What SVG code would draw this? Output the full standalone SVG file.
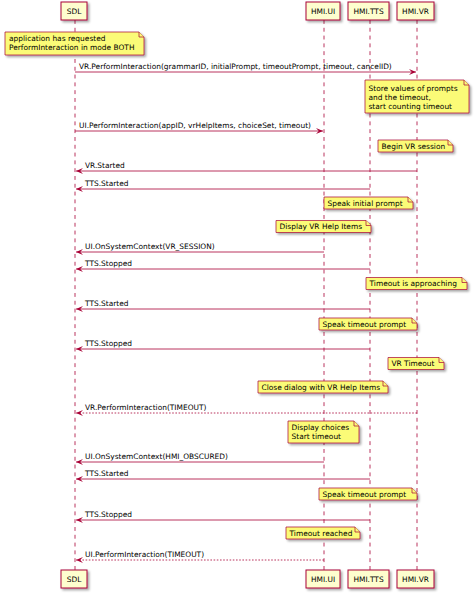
<svg xmlns="http://www.w3.org/2000/svg" width="474" height="594" viewBox="0 0 474 594">
<defs>
<filter id="sh" x="-10%" y="-20%" width="130%" height="160%">
<feDropShadow dx="1.8" dy="1.8" stdDeviation="1" flood-color="#000" flood-opacity="0.35"/>
</filter>
<marker id="ah" markerUnits="userSpaceOnUse" markerWidth="7" markerHeight="6" viewBox="0 0 7 6" refX="7" refY="3" orient="auto">
<path d="M0,0 L7,3 L0,6 L2.8,3 Z" fill="#A80036"/>
</marker>
</defs>
<style>
text{font-family:"DejaVu Sans",Verdana,sans-serif;font-size:7.45px;fill:#000}
.part rect{fill:#FEFECE;stroke:#A80036;stroke-width:1}
.life{stroke:#A80036;stroke-width:0.8;stroke-dasharray:3.9,3.9;fill:none}
.note path{fill:#FBFB77;stroke:#A80036;stroke-width:0.7}
.msg line{stroke:#A80036;stroke-width:0.8;marker-end:url(#ah)}
.msg line.dot{stroke-dasharray:1.6,1.6}
</style>

<g id="lifelines">
<line class="life" x1="75" y1="20" x2="75" y2="570"/>
<line class="life" x1="324" y1="20" x2="324" y2="570"/>
<line class="life" x1="370" y1="20" x2="370" y2="570"/>
<line class="life" x1="417" y1="20" x2="417" y2="570"/>
</g>

<g id="p-sdl" class="part">
<rect x="61" y="2" width="26" height="18" filter="url(#sh)"/>
<text x="74" y="14" text-anchor="middle">SDL</text>
<rect x="61" y="570" width="26" height="18" filter="url(#sh)"/>
<text x="74" y="582" text-anchor="middle">SDL</text>
</g>
<g id="p-ui" class="part">
<rect x="306" y="2" width="34" height="18" filter="url(#sh)"/>
<text x="323" y="14" text-anchor="middle">HMI.UI</text>
<rect x="306" y="570" width="34" height="18" filter="url(#sh)"/>
<text x="323" y="582" text-anchor="middle">HMI.UI</text>
</g>
<g id="p-tts" class="part">
<rect x="348" y="2" width="41" height="18" filter="url(#sh)"/>
<text x="368.5" y="14" text-anchor="middle">HMI.TTS</text>
<rect x="348" y="570" width="41" height="18" filter="url(#sh)"/>
<text x="368.5" y="582" text-anchor="middle">HMI.TTS</text>
</g>
<g id="p-vr" class="part">
<rect x="397" y="2" width="37" height="18" filter="url(#sh)"/>
<text x="415.5" y="14" text-anchor="middle">HMI.VR</text>
<rect x="397" y="570" width="37" height="18" filter="url(#sh)"/>
<text x="415.5" y="582" text-anchor="middle">HMI.VR</text>
</g>

<g id="connectors" class="msg">
<line x1="75" y1="72" x2="416" y2="72"/>
<text x="79" y="68.5">VR.PerformInteraction(grammarID, initialPrompt, timeoutPrompt, timeout, cancelID)</text>
<line x1="75" y1="131" x2="323" y2="131"/>
<text x="79" y="127.5">UI.PerformInteraction(appID, vrHelpItems, choiceSet, timeout)</text>
<line x1="417" y1="171" x2="76" y2="171"/>
<text x="85" y="167.5">VR.Started</text>
<line x1="370" y1="189" x2="76" y2="189"/>
<text x="85" y="185.5">TTS.Started</text>
<line x1="324" y1="252" x2="76" y2="252"/>
<text x="85" y="248.5">UI.OnSystemContext(VR_SESSION)</text>
<line x1="370" y1="269" x2="76" y2="269"/>
<text x="85" y="265.5">TTS.Stopped</text>
<line x1="370" y1="309" x2="76" y2="309"/>
<text x="85" y="305.5">TTS.Started</text>
<line x1="370" y1="349" x2="76" y2="349"/>
<text x="85" y="345.5">TTS.Stopped</text>
<line class="dot" x1="417" y1="413" x2="76" y2="413"/>
<text x="85" y="409.5">VR.PerformInteraction(TIMEOUT)</text>
<line x1="324" y1="462" x2="76" y2="462"/>
<text x="85" y="458.5">UI.OnSystemContext(HMI_OBSCURED)</text>
<line x1="370" y1="479" x2="76" y2="479"/>
<text x="85" y="475.5">TTS.Started</text>
<line x1="370" y1="520" x2="76" y2="520"/>
<text x="85" y="516.5">TTS.Stopped</text>
<line class="dot" x1="324" y1="560" x2="76" y2="560"/>
<text x="85" y="556.5">UI.PerformInteraction(TIMEOUT)</text>
</g>

<g id="n1" class="note">
<path d="M5,32 L139,32 L144,37 L144,55 L5,55 Z" filter="url(#sh)"/>
<path d="M139,32 L139,37 L144,37"/>
<text x="9" y="40.7">application has requested</text>
<text x="9" y="50">PerformInteraction in mode BOTH</text>
</g>
<g id="n2" class="note">
<path d="M365,80 L464,80 L469,85 L469,113 L365,113 Z" filter="url(#sh)"/>
<path d="M464,80 L464,85 L469,85"/>
<text x="368.5" y="91">Store values of prompts</text>
<text x="368.5" y="100">and the timeout,</text>
<text x="368.5" y="109">start counting timeout</text>
</g>
<g id="n3" class="note">
<path d="M378,140 L448,140 L453,145 L453,152 L378,152 Z" filter="url(#sh)"/>
<path d="M448,140 L448,145 L453,145"/>
<text x="381.5" y="148.7">Begin VR session</text>
</g>
<g id="n4" class="note">
<path d="M324,197 L408,197 L413,202 L413,209 L324,209 Z" filter="url(#sh)"/>
<path d="M408,197 L408,202 L413,202"/>
<text x="327.5" y="205.7">Speak initial prompt</text>
</g>
<g id="n5" class="note">
<path d="M276,220.5 L366,220.5 L371,225.5 L371,232.5 L276,232.5 Z" filter="url(#sh)"/>
<path d="M366,220.5 L366,225.5 L371,225.5"/>
<text x="279.5" y="229.2">Display VR Help Items</text>
</g>
<g id="n6" class="note">
<path d="M366,277.5 L462,277.5 L467,282.5 L467,289.5 L366,289.5 Z" filter="url(#sh)"/>
<path d="M462,277.5 L462,282.5 L467,282.5"/>
<text x="369.5" y="286.2">Timeout is approaching</text>
</g>
<g id="n7" class="note">
<path d="M319,318 L412,318 L417,323 L417,330 L319,330 Z" filter="url(#sh)"/>
<path d="M412,318 L412,323 L417,323"/>
<text x="322.5" y="326.7">Speak timeout prompt</text>
</g>
<g id="n8" class="note">
<path d="M388,357.5 L439,357.5 L444,362.5 L444,369.5 L388,369.5 Z" filter="url(#sh)"/>
<path d="M439,357.5 L439,362.5 L444,362.5"/>
<text x="391.5" y="366.2">VR Timeout</text>
</g>
<g id="n9" class="note">
<path d="M258,381 L383,381 L388,386 L388,393 L258,393 Z" filter="url(#sh)"/>
<path d="M383,381 L383,386 L388,386"/>
<text x="261.5" y="389.7">Close dialog with VR Help Items</text>
</g>
<g id="n10" class="note">
<path d="M288,421 L354,421 L359,426 L359,443 L288,443 Z" filter="url(#sh)"/>
<path d="M354,421 L354,426 L359,426"/>
<text x="291.5" y="430">Display choices</text>
<text x="291.5" y="439.3">Start timeout</text>
</g>
<g id="n11" class="note">
<path d="M319,488 L412,488 L417,493 L417,500 L319,500 Z" filter="url(#sh)"/>
<path d="M412,488 L412,493 L417,493"/>
<text x="322.5" y="496.7">Speak timeout prompt</text>
</g>
<g id="n12" class="note">
<path d="M286,527 L355,527 L360,532 L360,539 L286,539 Z" filter="url(#sh)"/>
<path d="M355,527 L355,532 L360,532"/>
<text x="289.5" y="535.7">Timeout reached</text>
</g>
</svg>
